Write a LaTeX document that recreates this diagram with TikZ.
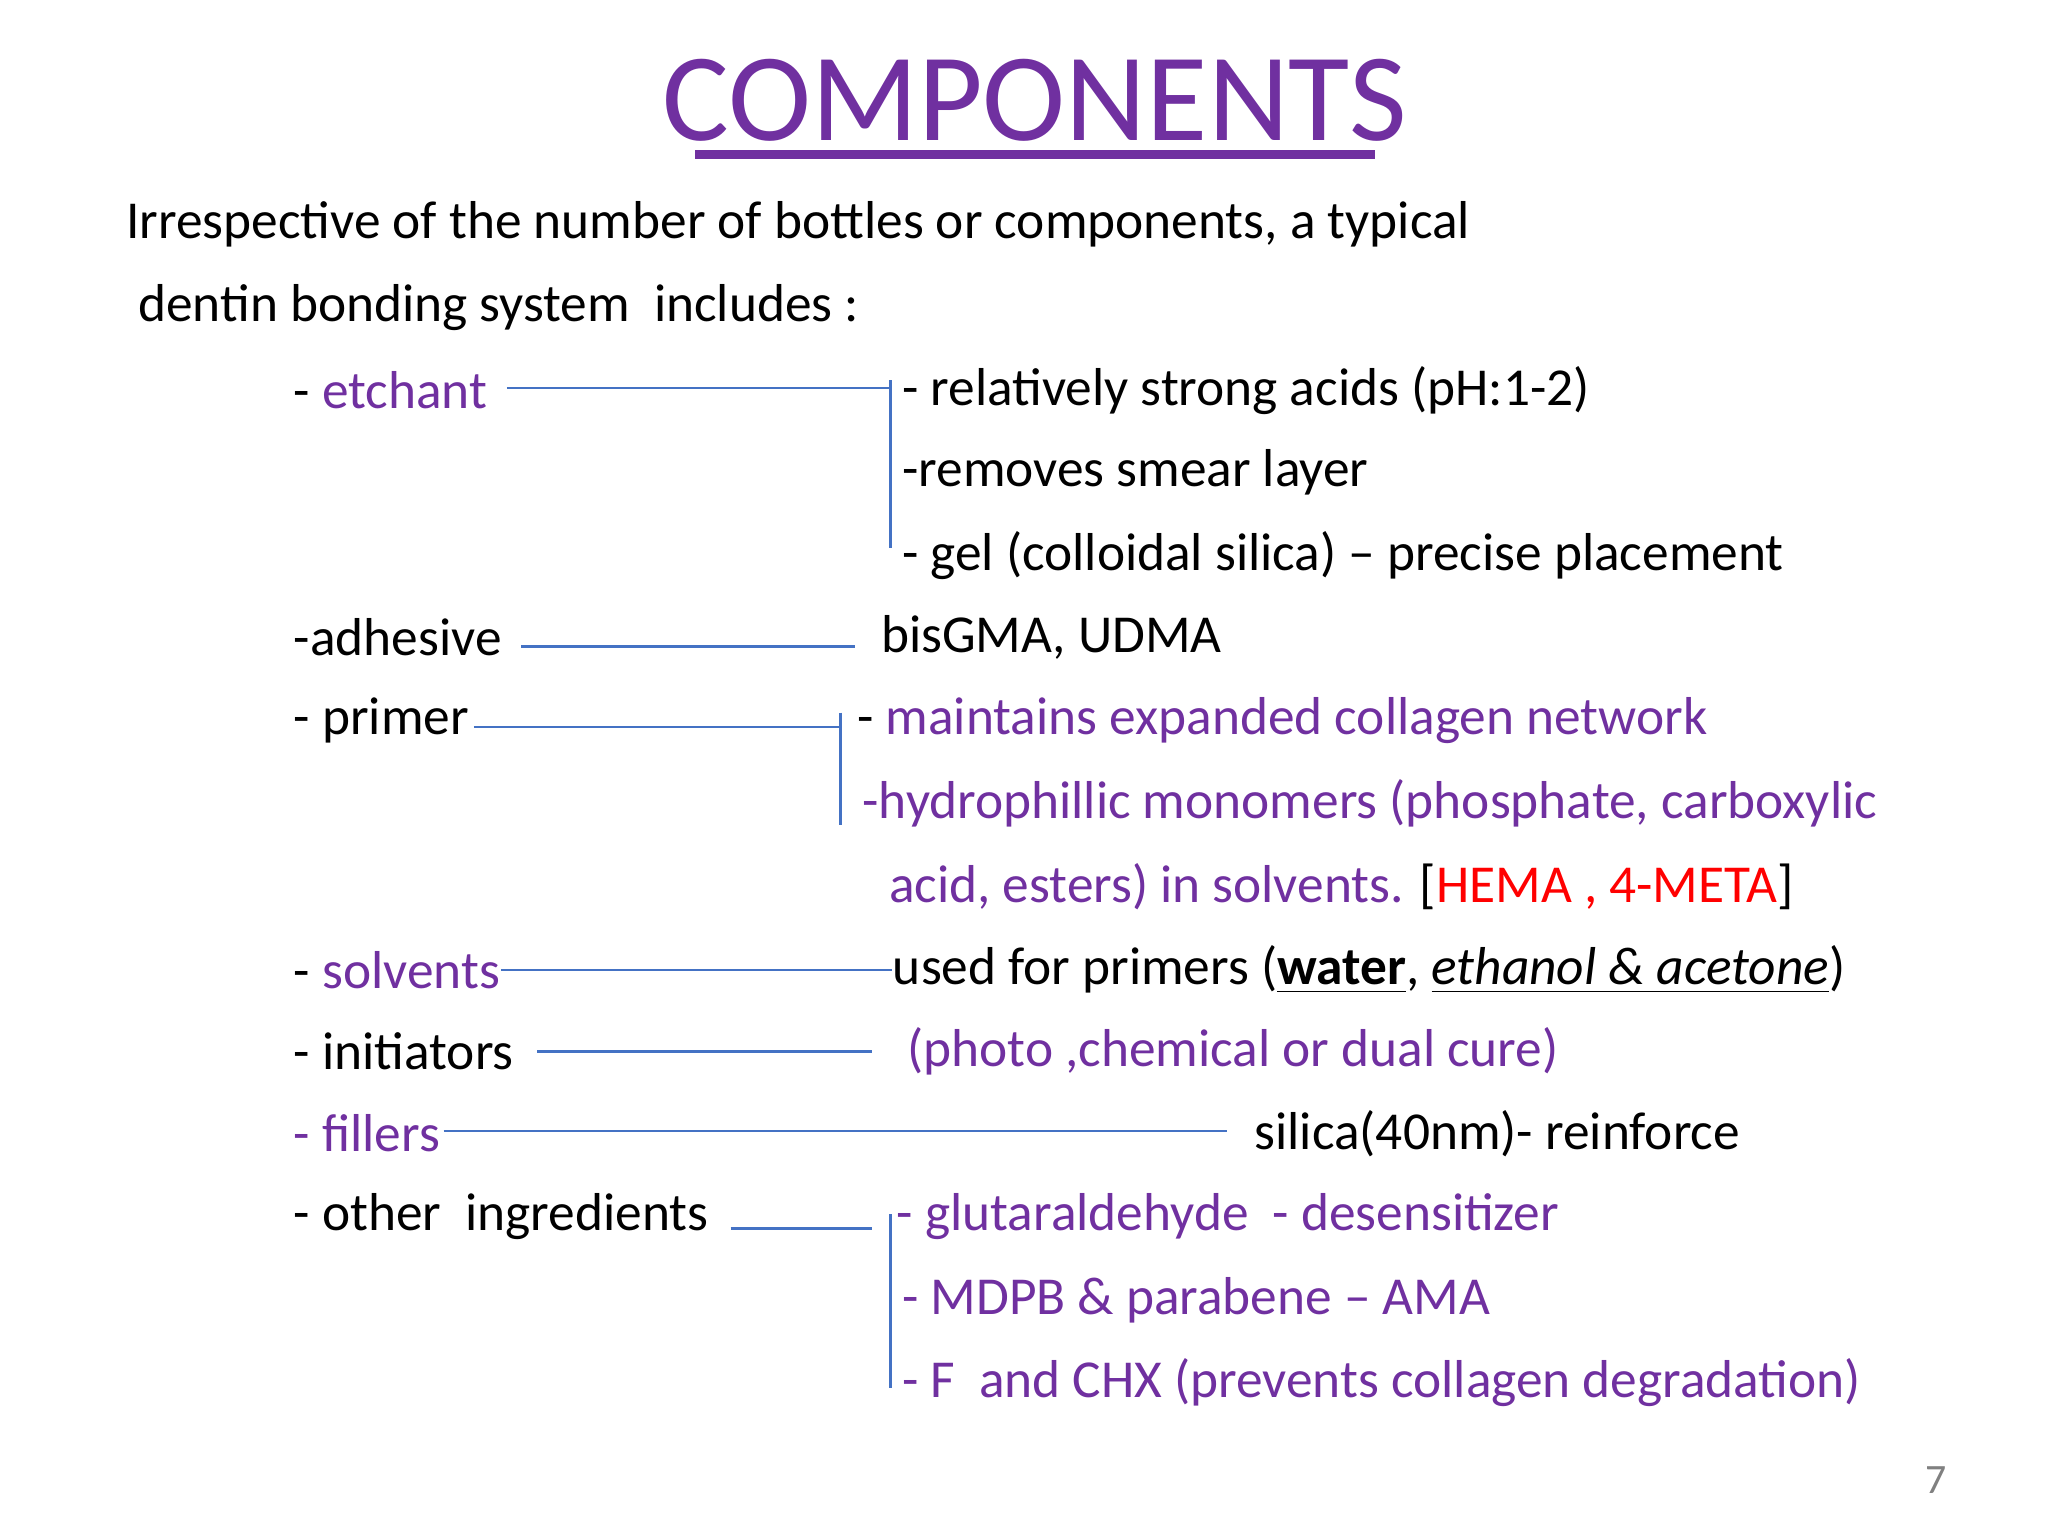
\documentclass[tikz,border=0pt]{standalone}
\usepackage{fontspec}
\setmainfont{Carlito}
\usetikzlibrary{positioning}
\definecolor{violetT}{HTML}{7030A0}
\definecolor{lineB}{HTML}{4472C4}
\begin{document}
\begin{tikzpicture}[x=0.01cm,y=-0.01cm]
\tikzstyle{txt}=[anchor=west,inner sep=0pt,font=\fontsize{11.5}{13}\selectfont]
\tikzstyle{hue}=[txt,text=violetT]
\tikzstyle{link}=[draw=lineB,line width=0.6pt]
\useasboundingbox (0,0) rectangle (1552,1164);

\node [font=\fontsize{27}{30}\selectfont,text=violetT,inner sep=0pt] (title) at (784,76) {COMPONENTS};
\draw [violetT,line width=2pt] (527,117) -- (1042,117);

\node [txt] (intro1) at (95,170) {Irrespective of the number of bottles or components, a typical};
\node [txt] (intro2) at (104,233) {dentin bonding system\ \ includes :};

\node [txt] (etch) at (222,296) {- \textcolor{violetT}{etchant}};
\node [txt] (etchA) at (683,296) {- relatively strong acids (pH:1-2)};
\node [txt] (etchB) at (683,358) {-removes smear layer};
\node [txt] (etchC) at (683,421) {- gel (colloidal silica) -- precise placement};

\node [txt] (adh) at (222,483) {-adhesive};
\node [txt] (adhA) at (667,483) {bisGMA, UDMA};

\node [txt] (prim) at (222,546) {- primer};
\node [txt] (primA) at (649,546) {- \textcolor{violetT}{maintains expanded collagen network}};
\node [hue] (primB) at (653,609) {-hydrophillic monomers (phosphate, carboxylic};
\node [txt] (primC) at (673,672) {\textcolor{violetT}{acid, esters) in solvents.} [\textcolor{red}{HEMA , 4-META}]};

\node [txt] (solv) at (222,735) {- \textcolor{violetT}{solvents}};
\node [txt] (solvA) at (676,735) {used for primers (\underline{\textbf{water}}, \underline{\textit{ethanol \& acetone}})};

\node [txt] (init) at (222,797) {- initiators};
\node [hue] (initA) at (687,797) {(photo ,chemical or dual cure)};

\node [hue] (fill) at (222,859) {- fillers};
\node [txt] (fillA) at (950,859) {silica(40nm)- reinforce};

\node [txt] (other) at (222,922) {- other\ \ ingredients};
\node [hue] (otherA) at (679,922) {- glutaraldehyde\ \ - desensitizer};
\node [hue] (otherB) at (683,985) {- MDPB \& parabene -- AMA};
\node [hue] (otherC) at (683,1048) {- F\ \ and CHX (prevents collagen degradation)};

\node [text=gray,font=\small,inner sep=0pt] (page) at (1467,1122) {7};

% connectors
\coordinate (etchEnd) at (675,294);
\coordinate (primEnd) at (637,551);
\coordinate (otherEnd) at (661,931);
\draw [link] (etch.east)++(14,-2) -- (etchEnd);
\draw [link] (675,288) -- (675,415);
\draw [link] (adh.east)++(14,7) -- (648,490);
\draw [link] (prim.east)++(3,5) -- (primEnd);
\draw [link] (637,540) -- (637,625);
\draw [link] (solv.east) -- (solvA.west);
\draw [link] (init.east)++(17,0) -- (661,797);
\draw [link] (fill.east)++(2,-2) -- (930,857);
\draw [link] (other.east)++(16,9) -- (otherEnd);
\draw [link] (675,920) -- (675,1052);
\end{tikzpicture}
\end{document}
